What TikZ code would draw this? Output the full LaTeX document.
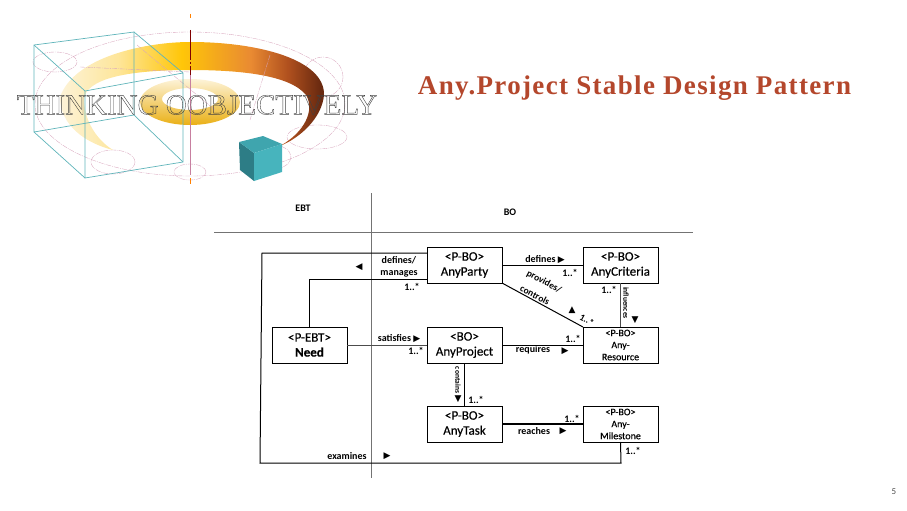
\documentclass[tikz,border=0pt]{standalone}
\usepackage{fontspec}
\setmainfont{Carlito}
\newfontfamily\boxfont[FakeBold=0.3]{Carlito}
\newfontfamily\titlefont[LetterSpace=5]{Liberation Serif}
\newfontfamily\logofont{Liberation Serif}
\newfontfamily\symfont{DejaVu Sans}
\usetikzlibrary{positioning}
\definecolor{rust}{HTML}{B4472C}
\definecolor{tealedge}{HTML}{5FB4BA}
\definecolor{pinkline}{HTML}{C77FA0}
\definecolor{ribbonpale}{HTML}{FDF3D8}
\definecolor{ribbongold}{HTML}{FFC608}
\definecolor{ribbonorange}{HTML}{E98A32}
\definecolor{ribbonrust}{HTML}{B0501E}
\definecolor{ribbonbrown}{HTML}{6A2A10}
\definecolor{ringgold}{HTML}{EAB016}
\definecolor{cubelight}{HTML}{47B4BD}
\definecolor{cubetop}{HTML}{3FA5AE}
\definecolor{cubedark}{HTML}{2D7D86}
\pgfdeclarehorizontalshading{ribbongrad}{100bp}{
  color(0bp)=(ribbonpale); color(25bp)=(ribbonpale); color(36bp)=(ribbonpale!70!ribbongold);
  color(48bp)=(ribbongold); color(61bp)=(ribbonorange);
  color(68bp)=(ribbonrust); color(74bp)=(ribbonbrown); color(100bp)=(ribbonbrown)}
\newcommand{\tri}[1]{{\symfont\fontsize{9}{9}\selectfont #1}}

\begin{document}
\begin{tikzpicture}[
  x=1pt, y=-1pt,
  boxstyle/.style={
        draw, line width=1pt, rectangle, outer sep=0pt, inner sep=0pt,
        minimum width=75pt, minimum height=36pt, align=center,
        font=\boxfont\fontsize{13}{15}\selectfont
  },
  smallbox/.style={
        boxstyle, font=\boxfont\fontsize{10}{12}\selectfont
  },
  linkstyle/.style={
        draw, line width=1pt
  },
  thinlink/.style={
        draw, line width=0.7pt, black!70
  },
  axisstyle/.style={
        draw, line width=0.7pt, black!55
  },
  wordstyle/.style={
        inner sep=0pt, font=\bfseries\fontsize{10}{12}\selectfont, align=center
  },
  sideword/.style={
        wordstyle, rotate=-90, font=\bfseries\fontsize{7.5}{8}\selectfont
  },
  slantword/.style={
        wordstyle, rotate=-28, font=\bfseries\fontsize{9.5}{10}\selectfont
  },
  wire/.style={
        draw=tealedge, line width=0.7pt
  },
  sketch/.style={
        draw=pinkline!70, line width=0.35pt, dash pattern=on 5pt off 1pt on 1pt off 1pt
  }
]
    \useasboundingbox (0,0) rectangle (907,511);

    % logo
    \draw[sketch] (55,62) ellipse (22 and 10);
    \draw[sketch] (113,162) ellipse (22 and 12);
    \draw[sketch] (323,77) ellipse (20 and 20);
    \draw[sketch] (317,137) ellipse (30 and 12);
    \draw[sketch] (273,157) ellipse (18 and 12);
    \draw[sketch] (190,104) ellipse (155 and 72);
    \draw[sketch] (190,172) ellipse (16 and 8);
    \shade[shading=ribbongrad]
      (60,97) .. controls (75,55) and (150,42) .. (190,42)
      .. controls (260,42) and (325,60) .. (324,95)
      .. controls (322,118) and (300,138) .. (280,146)
      .. controls (305,132) and (315,110) .. (306,95)
      .. controls (290,75) and (240,70) .. (190,70)
      .. controls (130,70) and (85,78) .. (84,100)
      .. controls (85,125) and (100,142) .. (113,150)
      .. controls (85,143) and (60,125) .. (60,97) -- cycle;
    \shade[even odd rule, top color=ribbonpale, bottom color=ringgold]
      (190,102) ellipse (50 and 23) (190,99) ellipse (28 and 11);
    \draw[line width=1pt, red!50!black, dash pattern=on 30pt off 2pt on 2pt off 2pt] (190,30) -- (190,75);
    \draw[line width=0.5pt, pinkline] (190,75) -- (190,175);
    \draw[line width=1pt, orange] (190,14) -- (190,18) (190,178) -- (190,184);
    \draw[sketch] (80,67) -- (190,72) (137,45) -- (215,110) (270,55) -- (250,120);
    \draw[wire] (34,45) -- (134,32) -- (134,115) -- (34,132) -- cycle;
    \draw[wire] (85,91) -- (183,73) -- (183,162) -- (85,178) -- cycle;
    \draw[wire] (34,45) -- (85,91) (134,32) -- (183,73) (34,132) -- (85,178) (134,115) -- (183,162);
    \fill[cubedark] (239,142) -- (254,153) -- (254,181) -- (240,170) -- cycle;
    \fill[cubetop] (239,142) -- (263,136) -- (282,144) -- (254,153) -- cycle;
    \fill[cubelight] (254,153) -- (282,144) -- (282,172) -- (254,181) -- cycle;
    \node[inner sep=0pt, text=black!75] (logotext) at (197,105) {\logofont\fontsize{29}{29}\selectfont\special{pdf:code 1 Tr 0.4 w}THINKING OOBJECTIVELY\special{pdf:code 0 Tr}};

    % heading
    \node[inner sep=0pt, text=rust] (heading) at (634.5,88)
      {\titlefont\bfseries\fontsize{27}{27}\selectfont Any.Project Stable Design Pattern};
    \node[inner sep=0pt, text=black!70, font=\fontsize{9}{9}\selectfont] (pagenum) at (894,492) {5};

    % quadrants
    \coordinate (axistop) at (371,193);
    \coordinate (axisbot) at (371,478);
    \coordinate (axisleft) at (214,232);
    \coordinate (axisright) at (693,232);
    \path[axisstyle] (axistop) -- (axisbot);
    \path[axisstyle] (axisleft) -- (axisright);
    \node[wordstyle] (ebtword) at (303,208) {EBT};
    \node[wordstyle] (boword) at (510,212) {BO};

    % boxes
    \node[boxstyle] (AnyParty) at (464.5,265) {<P-BO>\\AnyParty};
    \node[boxstyle, right=81pt of AnyParty] (AnyCriteria) {<P-BO>\\AnyCriteria};
    \node[boxstyle, below=44pt of AnyParty] (AnyProject) {<BO>\\AnyProject};
    \node[smallbox, below=44pt of AnyCriteria] (AnyResource) {<P-BO>\\Any-\\Resource};
    \node[boxstyle, left=80pt of AnyProject] (Need) {<P-EBT>\\\textbf{Need}};
    \node[boxstyle, below=43pt of AnyProject] (AnyTask) {<P-BO>\\AnyTask};
    \node[smallbox, below=43pt of AnyResource] (AnyMilestone) {<P-BO>\\Any-\\Milestone};

    % links
    \coordinate (partyup) at (427,253);
    \coordinate (partylow) at (427,279);
    \coordinate (outerA) at (262,253);
    \coordinate (outerB) at (260,463);
    \coordinate (outerC) at (621,463);
    \coordinate (needturn) at (309,279);
    \path[linkstyle] (partyup) -- (outerA) -- (outerB) -- (outerC) -- (AnyMilestone.south);
    \path[linkstyle] (Need.north -| needturn) -- (needturn) -- (partylow);
    \path[linkstyle] (AnyParty) -- (AnyCriteria);
    \path[linkstyle] (AnyParty.south east) -- (AnyResource.north west);
    \path[thinlink, line width=1.2pt] (AnyCriteria) -- (AnyResource);
    \path[thinlink] (Need) -- (AnyProject);
    \path[linkstyle] (AnyProject) -- (AnyResource);
    \path[linkstyle] (AnyProject) -- (AnyTask);
    \path[linkstyle, line width=1.5pt] (AnyTask) -- (AnyMilestone);

    % labels
    \node[wordstyle] (managesword) at (399,267) {defines/\\manages};
    \node[inner sep=0pt] (managestip) at (359,267) {\tri{◀}};
    \node[wordstyle] (partymult) at (412,287) {1..*};
    \node[wordstyle] (definesword) at (545,260) {defines \tri{▶}};
    \node[wordstyle] (criteriamult) at (570,273) {1..*};
    \node[wordstyle] (criteriamultb) at (609,290) {1..*};
    \node[sideword] (influencesword) at (626,303) {influences};
    \node[inner sep=0pt] (influencestip) at (635,320) {\tri{▼}};
    \node[slantword] (providesword) at (544,282) {provides/};
    \node[slantword] (controlsword) at (535,295) {controls};
    \node[inner sep=0pt] (providestip) at (572,310) {\tri{▲}};
    \node[slantword] (providesmult) at (587,320) {1..*};
    \node[wordstyle] (satisfiesword) at (399,339) {satisfies \tri{▶}};
    \node[wordstyle] (projectmult) at (416,351) {1..*};
    \node[wordstyle] (resourcemult) at (573,339) {1..*};
    \node[wordstyle] (requiresword) at (533,350) {requires};
    \node[inner sep=0pt] (requirestip) at (565,351) {\tri{▶}};
    \node[sideword] (containsword) at (458,380) {contains};
    \node[inner sep=0pt] (containstip) at (458,399) {\tri{▼}};
    \node[wordstyle] (taskmult) at (476,400) {1..*};
    \node[wordstyle] (milestonemult) at (572,419) {1..*};
    \node[wordstyle] (reachesword) at (534,431) {reaches};
    \node[inner sep=0pt] (reachestip) at (563,431) {\tri{▶}};
    \node[wordstyle] (milestonemultb) at (633,451) {1..*};
    \node[wordstyle] (examinesword) at (347,456) {examines};
    \node[inner sep=0pt] (examinestip) at (387,456) {\tri{▶}};
\end{tikzpicture}
\end{document}
